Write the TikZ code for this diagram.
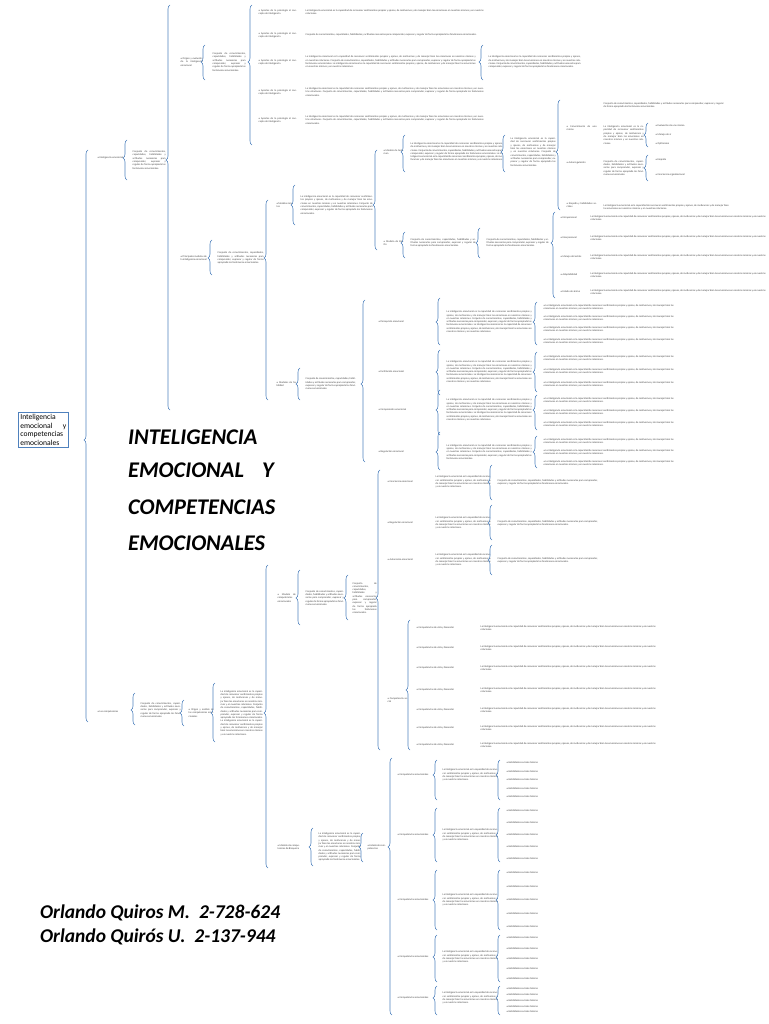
\documentclass[tikz,border=0pt]{standalone}
\usepackage{fontspec}
\setmainfont{Carlito}
\usetikzlibrary{decorations.pathreplacing}
\definecolor{bl}{RGB}{79,129,189}
\tikzset{brc/.style={draw=bl,line width=0.6pt,decorate},
 lf/.style={anchor=west,inner sep=0.5pt,align=justify,font=\fontsize{2.6}{3.3}\selectfont,text=black!75},
 ttl/.style={anchor=west,inner sep=0,font=\fontsize{22.4}{23}\bfseries\itshape\selectfont},
 nm/.style={anchor=west,inner sep=0,font=\fontsize{19.5}{20}\bfseries\itshape\selectfont}}
\newcommand\brc[4]{\pgfmathsetmacro\asp{(#3-#4)/(#3-#2)}%
 \draw[brc,decoration={brace,amplitude=4pt,aspect=\asp}] (#1,#3) -- (#1,#2);}
\newcommand\lf[4]{\node[lf,text width=#3pt] at (#1,#2) {#4};}
\newcommand\ta{La inteligencia emocional es la capacidad de reconocer sentimientos propios y ajenos, de motivarnos y de manejar bien las emociones en nosotros mismos y en nuestras relaciones.}
\newcommand\tb{Conjunto de conocimientos, capacidades, habilidades y actitudes necesarias para comprender, expresar y regular de forma apropiada los fenómenos emocionales.}
\newcommand\tc{\ta\ \tb}
\newcommand\td{\tc\ \ta}
\begin{document}
\begin{tikzpicture}[x=1pt,y=-1pt]
\useasboundingbox (0,0) rectangle (768,1024);
% root
\node[draw=bl,line width=0.7pt,anchor=north west,text width=46pt,inner sep=2pt,align=justify,font=\fontsize{7.6}{8.6}\selectfont] (root) at (18,412) {Inteligencia emocional y competencias emocionales};
\brc{88}{150}{722}{440}
% title
\node[ttl] (t1) at (128,437) {INTELIGENCIA};
\node[ttl] (t2) at (128,470) {EMOCIONAL};
\node[ttl,anchor=east] (t3) at (274,470) {Y};
\node[ttl] (t4) at (128,507) {COMPETENCIAS};
\node[ttl] (t5) at (128,543) {EMOCIONALES};
\node[nm] (n1) at (40,913) {Orlando Quiros M.\ \ 2-728-624};
\node[nm] (n2) at (40,937) {Orlando Quirós U.\ \ 2-137-944};
% level 1
\lf{97}{158}{28}{• Inteligencia emocional}
\lf{97}{712}{33}{• Las competencias}
% A
\brc{127}{140}{180}{158}
\lf{132}{160}{33}{\tb}
\brc{170}{5}{410}{160}
\lf{180}{62}{22}{• Origen y evolución de la inteligencia emocional}
\lf{180}{258}{26}{• Principales modelos de la inteligencia emocional}
\brc{205}{45}{80}{62}
\lf{212}{62}{33}{\tb}
\brc{252}{5}{145}{62}
\foreach \y in {12,35,62,92,120}{\lf{258}{\y}{38}{• Aportes de la psicología al concepto de inteligencia}}
\lf{305}{12}{178}{\ta}
\lf{305}{35}{178}{\tb}
\lf{305}{62}{170}{\td}
\lf{305}{92}{178}{\tc}
\lf{305}{120}{178}{\tc}
\brc{483}{45}{80}{62}
\lf{488}{62}{92}{\tc}
% A2
\brc{212}{240}{275}{258}
\lf{217}{258}{46}{\tb}
\brc{268}{200}{400}{258}
\lf{276}{205}{16}{• Modelos mixtos}
\lf{276}{384}{20}{• Modelos de habilidad}
\brc{295}{185}{225}{205}
\lf{300}{205}{72}{\tc}
\brc{377}{150}{250}{205}
\lf{383}{152}{20}{• Modelo de Goleman}
\lf{383}{243}{20}{• Modelo de Bar-On}
\brc{405}{135}{172}{152}
\lf{410}{152}{92}{\td}
\brc{505}{135}{172}{152}
\lf{510}{152}{45}{\tc}
\brc{560}{100}{210}{152}
\lf{566}{128}{30}{• Conocimiento de uno mismo}
\lf{566}{163}{30}{• Autorregulación}
\lf{566}{205}{30}{• Empatía y habilidades sociales}
\lf{603}{105}{120}{\tb}
\lf{603}{135}{40}{\ta}
\lf{603}{168}{40}{\tb}
\lf{603}{207}{125}{\ta}
\brc{648}{123}{147}{135}
\foreach \y/\t in {126/Evaluación de uno mismo,135/Manejo de sí,144/Optimismo}{\lf{655}{\y}{70}{• \t}}
\brc{648}{155}{181}{168}
\lf{655}{160}{70}{• Empatía}\lf{655}{175}{70}{• Conciencia organizacional}
\brc{405}{232}{258}{243}
\lf{410}{243}{65}{\tb}
\brc{480}{228}{258}{243}
\lf{486}{243}{62}{\tb}
\brc{555}{212}{298}{243}
\foreach \y/\t in {218/Intrapersonal,238/Interpersonal,257/Manejo del estrés,275/Adaptabilidad,292/Estado de ánimo}{\lf{560}{\y}{22}{• \t}\lf{590}{\y}{175}{\ta}}
% habilidad
\brc{300}{368}{400}{384}
\lf{305}{384}{50}{\tb}
\brc{365}{300}{462}{384}
\foreach \y/\t in {322/Percepción emocional,372/Facilitación emocional,410/Comprensión emocional,452/Regulación emocional}{\lf{378}{\y}{55}{• \t}}
\brc{440}{298}{345}{322}\lf{446}{322}{85}{\td}
\brc{440}{350}{395}{372}\lf{446}{372}{85}{\td}
\brc{440}{390}{435}{410}\lf{446}{410}{85}{\td}
\brc{440}{432}{470}{452}\lf{446}{452}{85}{\tc}
\brc{537}{302}{345}{322}
\foreach \y in {307,318,329,341}{\lf{543}{\y}{130}{• \ta}}
\brc{537}{352}{392}{372}
\foreach \y in {358,371,384}{\lf{543}{\y}{130}{• \ta}}
\brc{537}{395}{430}{410}
\foreach \y in {400,412,424}{\lf{543}{\y}{130}{• \ta}}
\brc{537}{436}{468}{452}
\foreach \y in {441,452,463}{\lf{543}{\y}{130}{• \ta}}
% B
\brc{135}{693}{725}{710}
\lf{140}{710}{40}{\tb}
\brc{184}{700}{726}{713}
\lf{188}{713}{25}{• Origen y análisis de las competencias emocionales}
\brc{215}{683}{742}{713}
\lf{220}{713}{42}{\td}
\brc{268}{565}{868}{713}
\lf{277}{598}{18}{• Modelo de competencias emocionales}
\lf{277}{847}{22}{• Modelo de competencias de Bisquerra}
\brc{300}{570}{625}{598}
\lf{305}{598}{38}{\tb}
\brc{348}{575}{620}{598}
\lf{352}{598}{24}{\tb}
\brc{380}{470}{750}{598}
\foreach \y/\t in {482/Conciencia emocional,523/Regulación emocional,560/Autonomía emocional}{\lf{387}{\y}{45}{• \t}\lf{435}{\y}{55}{\ta}}
\lf{387}{700}{20}{• Competencia social}
\brc{492}{465}{500}{482}\lf{497}{482}{100}{\tb}
\brc{492}{505}{540}{523}\lf{497}{523}{100}{\tb}
\brc{492}{545}{575}{560}\lf{497}{560}{100}{\tb}
\brc{410}{620}{750}{690}
\foreach \y in {628,648,668,690,710,728,745}{\lf{416}{\y}{60}{• Competencias de vida y bienestar}\lf{480}{\y}{175}{\ta}}
% Bisquerra
\brc{313}{828}{866}{847}
\lf{318}{847}{42}{\tc}
\brc{363}{833}{862}{847}
\lf{367}{847}{18}{• Listado de competencias}
\brc{392}{758}{1015}{847}
\foreach \y/\a/\b in {775/760/800,835/808/862,900/870/930,957/935/982,998/986/1015}{
 \lf{397}{\y}{36}{• Competencias emocionales}
 \brc{437}{\a}{\b}{\y}
 \lf{442}{\y}{55}{\ta}
 \brc{500}{\a}{\b}{\y}
 \foreach \k in {0,1,2,3,4}{\pgfmathsetmacro\yy{\a+3+\k*(\b-\a-6)/4}\lf{506}{\yy}{130}{• Habilidades sociales básicas}}}
\end{tikzpicture}
\end{document}
